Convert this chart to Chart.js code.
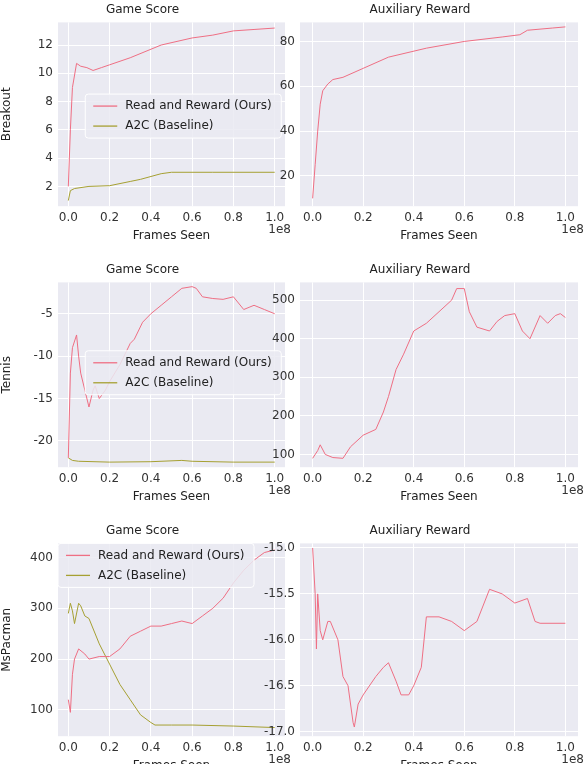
<!DOCTYPE html><html><head><meta charset="utf-8">
<script src="https://cdn.jsdelivr.net/npm/chart.js@4/dist/chart.umd.min.js"></script>
<style>body{margin:0;background:#fff;width:585px;height:764px;position:relative;overflow:hidden}
.c{position:absolute}</style></head><body>
<div class="c" id="d0" style="left:0;top:1px;width:292px;height:242px"><canvas id="c0"></canvas></div>
<div class="c" id="d1" style="left:262px;top:1px;width:323px;height:242px"><canvas id="c1"></canvas></div>
<div class="c" id="d2" style="left:0;top:261px;width:292px;height:243px"><canvas id="c2"></canvas></div>
<div class="c" id="d3" style="left:262px;top:261px;width:323px;height:243px"><canvas id="c3"></canvas></div>
<div class="c" id="d4" style="left:0;top:522px;width:292px;height:251px"><canvas id="c4"></canvas></div>
<div class="c" id="d5" style="left:262px;top:522px;width:323px;height:251px"><canvas id="c5"></canvas></div>
<script>
const games=["Breakout","Tennis","MsPacman"];
const titles=["Game Score","Auxiliary Reward"];
const seriesNames=["Read and Reward (Ours)","A2C (Baseline)"];
const xTicks=[0,0.2,0.4,0.6,0.8,1.0];

const brX=[0,0.01,0.02,0.04,0.06,0.09,0.12,0.16,0.2,0.3,0.45,0.6,0.7,0.8,0.9,1.0];
const brRR=[2,6,9,10.7,10.5,10.4,10.2,10.4,10.6,11.1,12,12.5,12.7,13,13.1,13.2];
const brA2CX=[0,0.01,0.03,0.1,0.2,0.3,0.35,0.45,0.5,0.7,1.0];
const brA2C=[1,1.7,1.85,2,2.05,2.35,2.5,2.9,3,3,3];
const brAuxX=[0,0.01,0.02,0.03,0.04,0.06,0.08,0.12,0.2,0.3,0.45,0.6,0.75,0.82,0.85,0.95,1.0];
const brAux=[10,25,40,52,58,61,63,64,68,73,77,80,82,83,85,86,86.5];

const teX=[0,0.01,0.02,0.04,0.05,0.06,0.08,0.1,0.12,0.13,0.15,0.18,0.2,0.25,0.3,0.32,0.36,0.4,0.45,0.5,0.55,0.6,0.62,0.65,0.7,0.75,0.8,0.85,0.88,0.9,0.95,1.0];
const teRR=[-22,-12,-9,-7.5,-10,-12,-14,-16,-14,-13.5,-15,-14,-13,-11,-8.5,-8,-6,-5,-4,-3,-2,-1.8,-2,-3,-3.2,-3.3,-3,-4.5,-4.2,-4,-4.5,-5];
const teA2CX=[0,0.02,0.05,0.2,0.4,0.55,0.6,0.8,1.0];
const teA2C=[-22,-22.3,-22.4,-22.5,-22.45,-22.3,-22.4,-22.5,-22.5];
const teAuxX=[0,0.02,0.03,0.05,0.08,0.12,0.15,0.2,0.25,0.28,0.3,0.33,0.36,0.4,0.45,0.5,0.55,0.57,0.6,0.62,0.65,0.7,0.73,0.76,0.8,0.83,0.86,0.9,0.93,0.96,0.98,1.0];
const teAux=[90,110,125,100,92,90,120,150,165,210,250,320,360,420,440,470,500,530,530,470,430,420,445,460,465,420,400,460,440,460,465,455];

const pmX=[0,0.01,0.02,0.03,0.05,0.08,0.1,0.15,0.2,0.25,0.3,0.35,0.4,0.45,0.5,0.55,0.6,0.65,0.7,0.75,0.8,0.85,0.9,0.95,1.0];
const pmRR=[120,95,170,200,220,210,200,205,205,220,245,255,265,265,270,275,270,285,300,320,350,375,395,410,415];
const pmA2CX=[0,0.01,0.02,0.03,0.05,0.06,0.08,0.1,0.15,0.2,0.25,0.3,0.35,0.4,0.42,0.5,0.6,0.8,1.0];
const pmA2C=[290,310,295,270,310,305,285,280,230,190,150,120,90,75,70,70,70,68,65];
const pmAuxX=[0,0.01,0.015,0.02,0.03,0.04,0.06,0.07,0.1,0.12,0.14,0.16,0.165,0.18,0.2,0.25,0.28,0.3,0.33,0.35,0.38,0.4,0.43,0.45,0.5,0.55,0.6,0.65,0.7,0.75,0.8,0.85,0.88,0.9,1.0];
const pmAux=[-15,-15.5,-16.1,-15.5,-15.9,-16,-15.8,-15.8,-16,-16.4,-16.5,-16.9,-16.95,-16.7,-16.6,-16.4,-16.3,-16.25,-16.45,-16.6,-16.6,-16.5,-16.3,-15.75,-15.75,-15.8,-15.9,-15.8,-15.45,-15.5,-15.6,-15.55,-15.8,-15.82,-15.82];

const yRanges=[[0.6,13.6],[6.5,88.5],[-23.1,-1.3],[67,546],[48,428],[-17.05,-14.95]];
const yTicks=[[2,4,6,8,10,12],[20,40,60,80],[-20,-15,-10,-5],[100,200,300,400,500],[100,200,300,400],[-17,-16.5,-16,-15.5,-15]];
const RED='#ef6f84', OLIVE='#a6a032';
const F='"DejaVu Sans"';
const pts=(xs,ys)=>xs.map((x,i)=>({x,y:ys[i]}));

const panels=[
 {ds:[[brX,brRR,RED],[brA2CX,brA2C,OLIVE]],leg:[0.12,0.39]},
 {ds:[[brAuxX,brAux,RED]]},
 {ds:[[teX,teRR,RED],[teA2CX,teA2C,OLIVE]],leg:[0.12,0.37]},
 {ds:[[teAuxX,teAux,RED]]},
 {ds:[[pmX,pmRR,RED],[pmA2CX,pmA2C,OLIVE]],leg:[0.0,0.0]},
 {ds:[[pmAuxX,pmAux,RED]]}
];
const bg={id:'bg',beforeDraw(c){const a=c.chartArea,x=c.ctx;x.save();x.fillStyle='#eaeaf2';x.fillRect(a.left,a.top,a.width,a.height);x.restore();}};
const extra={id:'extra',afterDraw(c){const o=c.options.plugins.extra,a=c.chartArea,x=c.ctx;x.save();
 x.font='12px '+F;x.fillStyle='#333';x.textAlign='right';x.textBaseline='top';x.fillText('1e8',a.right+6,a.bottom+18);
 if(o.leg){const w=196,h=44,lx=a.left+o.leg[0]*a.width,ly=a.top+o.leg[1]*a.height;
  x.fillStyle='rgba(234,234,242,0.85)';x.strokeStyle='#fff';x.lineWidth=1;x.beginPath();x.roundRect(lx,ly,w,h,3);x.fill();x.stroke();
  [RED,OLIVE].forEach((col,i)=>{const yy=ly+12+i*20;x.strokeStyle=col;x.lineWidth=1.3;x.beginPath();x.moveTo(lx+8,yy);x.lineTo(lx+32,yy);x.stroke();
   x.fillStyle='#222';x.textAlign='left';x.textBaseline='middle';x.font='12px '+F;x.fillText(seriesNames[i],lx+40,yy);});}
 x.restore();}};
panels.forEach((p,i)=>{
 const left=i%2===0,row=Math.floor(i/2);
 new Chart(document.getElementById('c'+i),{type:'line',
  data:{datasets:p.ds.map(d=>({data:pts(d[0],d[1]),borderColor:d[2],borderWidth:1,pointRadius:0,tension:0,fill:false}))},
  options:{responsive:true,maintainAspectRatio:false,animation:false,
   layout:{padding:{right:7,top:2,bottom:0}},
   plugins:{legend:{display:false},tooltip:{enabled:false},
    title:{display:true,text:titles[i%2],color:'#222',font:{family:F,size:12,weight:'normal'},padding:{top:0,bottom:5}},
    extra:{leg:p.leg}},
   scales:{
    x:{type:'linear',min:-0.05,max:1.05,afterBuildTicks:s=>{s.ticks=xTicks.map(v=>({value:v}));},
     grid:{color:'#fff',lineWidth:1,drawTicks:false},border:{display:false},
     ticks:{color:'#333',font:{family:F,size:12},padding:4,callback:v=>v.toFixed(1),maxRotation:0},
     title:{display:true,text:'Frames Seen',color:'#222',font:{family:F,size:12},padding:{top:0,bottom:0}}},
    y:{min:yRanges[i][0],max:yRanges[i][1],afterBuildTicks:s=>{s.ticks=yTicks[i].map(v=>({value:v}));},
     afterFit:s=>{s.width=left?58:38;},
     grid:{color:'#fff',lineWidth:1,drawTicks:false},border:{display:false},
     ticks:{color:'#333',font:{family:F,size:12},padding:5,callback:v=>(i===5?v.toFixed(1):String(v))},
     title:{display:left,text:games[row],color:'#222',font:{family:F,size:12},padding:{top:0,bottom:2}}}}},
  plugins:[bg,extra]});
});
</script></body></html>
